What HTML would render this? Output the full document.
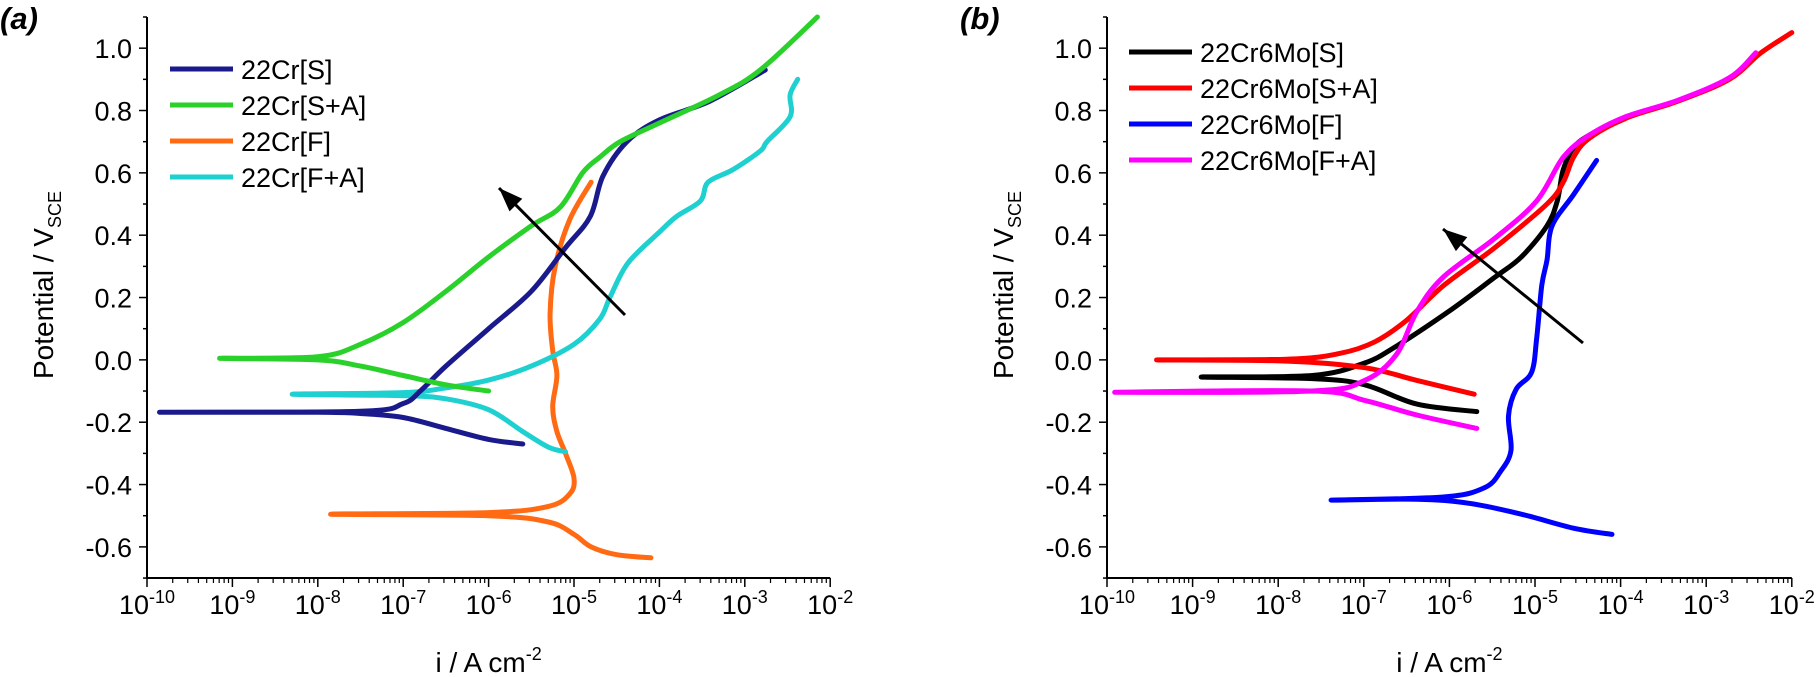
<!DOCTYPE html>
<html><head><meta charset="utf-8"><style>
html,body{margin:0;padding:0;background:#fff}
svg{display:block;font-family:"Liberation Sans",sans-serif}
</style></head><body>
<svg id="s" width="1817" height="677" xmlns="http://www.w3.org/2000/svg">
<text x="0" y="29" font-size="31" font-style="italic" font-weight="bold">(a)</text>
<text x="960" y="29" font-size="31" font-style="italic" font-weight="bold">(b)</text>
</svg>
<script>
(function(){
const S=document.getElementById('s');const NS='http://www.w3.org/2000/svg';
function el(t,a,txt){const e=document.createElementNS(NS,t);for(const k in a)e.setAttribute(k,a[k]);if(txt!==undefined)e.textContent=txt;S.appendChild(e);return e;}
const T=17,B=578;const Y=E=>T+(1.1-E)*311.7;
function smooth(P){let d='M'+P[0][0].toFixed(1)+','+P[0][1].toFixed(1);
  for(let i=0;i<P.length-1;i++){const p0=P[i-1]||P[i],p1=P[i],p2=P[i+1],p3=P[i+2]||p2;
    const c1=[p1[0]+(p2[0]-p0[0])/6,p1[1]+(p2[1]-p0[1])/6],c2=[p2[0]-(p3[0]-p1[0])/6,p2[1]-(p3[1]-p1[1])/6];
    d+='C'+c1.map(v=>v.toFixed(1))+' '+c2.map(v=>v.toFixed(1))+' '+p2.map(v=>v.toFixed(1));}
  return d;}
function panel(x0,dec,ylabX,curves,legend,arrow){
  const X=d=>x0+(d+10)*dec;
  el('line',{x1:x0,y1:T,x2:x0,y2:B+1,stroke:'#000','stroke-width':2});
  el('line',{x1:x0-1,y1:B,x2:X(-2),y2:B,stroke:'#000','stroke-width':2});
  for(let i=-7;i<=11;i++){const E=i/10,y=Y(E),maj=(i%2===0);
    el('line',{x1:x0-(maj?8:4),y1:y,x2:x0,y2:y,stroke:'#000','stroke-width':1.5});
    if(maj&&i!==-7&&i<=10) el('text',{x:x0-15,y:y+10,'font-size':27,'text-anchor':'end'},(E<0?'-':'')+Math.abs(E).toFixed(1));}
  for(let d=-10;d<=-2;d++){el('line',{x1:X(d),y1:B,x2:X(d),y2:B+9,stroke:'#000','stroke-width':1.5});
    const t=el('text',{x:X(d),y:614,'font-size':27,'text-anchor':'middle'});
    const a=document.createElementNS(NS,'tspan');a.textContent='10';t.appendChild(a);
    const b=document.createElementNS(NS,'tspan');b.textContent=String(d);b.setAttribute('font-size','18');b.setAttribute('dy','-11');t.appendChild(b);
    if(d<-2)for(let m=2;m<10;m++){const xx=X(d+Math.log10(m));el('line',{x1:xx,y1:B,x2:xx,y2:B+5,stroke:'#000','stroke-width':1.2});}}
  const xc=(x0+X(-2))/2;
  const t=el('text',{x:xc,y:672,'font-size':28,'text-anchor':'middle'},'i / A cm');
  const sp=document.createElementNS(NS,'tspan');sp.textContent='-2';sp.setAttribute('font-size','18');sp.setAttribute('dy','-12');t.appendChild(sp);
  const yt=el('text',{x:0,y:0,'font-size':28,'text-anchor':'middle',transform:`translate(${ylabX},285) rotate(-90)`},'Potential / V');
  const s2=document.createElementNS(NS,'tspan');s2.textContent='SCE';s2.setAttribute('font-size','18');s2.setAttribute('dy','8');yt.appendChild(s2);
  for(const c of curves){el('path',{d:smooth(c.p.map(q=>[X(q[0]),Y(q[1])])),fill:'none',stroke:c.c,'stroke-width':5,'stroke-linejoin':'round','stroke-linecap':'round'});}
  legend.rows.forEach((r,i)=>{const y=legend.y+i*36;el('line',{x1:legend.x,y1:y,x2:legend.x+63,y2:y,stroke:r[1],'stroke-width':5});
    el('text',{x:legend.x+71,y:y+10,'font-size':27},r[0]);});
  const [ax,ay,bx,by]=arrow;el('line',{x1:ax,y1:ay,x2:bx,y2:by,stroke:'#000','stroke-width':3});
  const ang=Math.atan2(by-ay,bx-ax),L=24,W=9;
  const px=bx-L*Math.cos(ang),py=by-L*Math.sin(ang);
  el('polygon',{points:`${bx},${by} ${px+W*Math.sin(ang)},${py-W*Math.cos(ang)} ${px-W*Math.sin(ang)},${py+W*Math.cos(ang)}`,fill:'#000'});
}
panel(147,85.4,53,[
 {c:'#ff6a13',p:[[-4.1,-0.635],[-4.5,-0.625],[-4.8,-0.6],[-5,-0.56],[-5.3,-0.52],[-6,-0.5],[-7.85,-0.495],[-6,-0.49],[-5.3,-0.47],[-5.05,-0.43],[-5.0,-0.38],[-5.1,-0.3],[-5.2,-0.23],[-5.25,-0.15],[-5.2,-0.05],[-5.25,0.03],[-5.28,0.15],[-5.22,0.3],[-5.05,0.45],[-4.8,0.57]]},
 {c:'#1fd0d0',p:[[-5.1,-0.295],[-5.3,-0.28],[-5.6,-0.23],[-6,-0.16],[-6.5,-0.125],[-7,-0.115],[-8.3,-0.11],[-7,-0.105],[-6.5,-0.09],[-6,-0.065],[-5.5,-0.02],[-5,0.05],[-4.7,0.13],[-4.58,0.2],[-4.37,0.31],[-4.0,0.41],[-3.8,0.46],[-3.52,0.51],[-3.43,0.57],[-3.14,0.61],[-2.82,0.67],[-2.74,0.70],[-2.47,0.78],[-2.47,0.85],[-2.38,0.9]]},
 {c:'#1a1a8c',p:[[-5.6,-0.27],[-6,-0.255],[-6.5,-0.22],[-7,-0.185],[-7.5,-0.172],[-8,-0.168],[-9.85,-0.168],[-7.5,-0.165],[-7,-0.14],[-6.8,-0.1],[-6.5,-0.02],[-6,0.1],[-5.5,0.22],[-5.1,0.36],[-4.81,0.46],[-4.66,0.59],[-4.38,0.70],[-4,0.77],[-3.41,0.83],[-2.76,0.93]]},
 {c:'#2ad12a',p:[[-6,-0.1],[-6.5,-0.08],[-7,-0.05],[-7.5,-0.02],[-8,0.0],[-9.15,0.005],[-8,0.01],[-7.5,0.05],[-7,0.12],[-6.5,0.22],[-6,0.33],[-5.5,0.43],[-5.16,0.49],[-4.9,0.6],[-4.7,0.65],[-4.46,0.7],[-4,0.76],[-3.3,0.85],[-2.82,0.93],[-2.15,1.1]]}
],{x:170,y:69,rows:[['22Cr[S]','#1a1a8c'],['22Cr[S+A]','#2ad12a'],['22Cr[F]','#ff6a13'],['22Cr[F+A]','#1fd0d0']]},[625,315,499,188]);
const upper=[[-3.94,0.775],[-3.33,0.83],[-2.73,0.90],[-2.36,0.985],[-2.0,1.05]];
panel(1107,85.6,1013,[
 {c:'#0000ff',p:[[-4.1,-0.56],[-4.55,-0.54],[-5.16,-0.495],[-5.77,-0.46],[-6.38,-0.447],[-7.38,-0.45],[-6.07,-0.44],[-5.59,-0.41],[-5.4,-0.357],[-5.28,-0.29],[-5.31,-0.18],[-5.22,-0.094],[-5.04,-0.04],[-4.98,0.07],[-4.92,0.24],[-4.86,0.32],[-4.8,0.43],[-4.55,0.53],[-4.28,0.64]]},
 {c:'#000000',p:[[-5.68,-0.166],[-6.38,-0.142],[-6.99,-0.08],[-7.6,-0.06],[-8.9,-0.055],[-7.6,-0.05],[-6.99,-0.01],[-6.62,0.044],[-6.01,0.155],[-5.47,0.265],[-5.16,0.33],[-4.86,0.43],[-4.74,0.51],[-4.67,0.61],[-4.55,0.68],[-4.37,0.72]].concat(upper.slice(0,1))},
 {c:'#ff0000',p:[[-5.71,-0.11],[-6.38,-0.066],[-6.99,-0.025],[-7.9,-0.004],[-9.42,0],[-7.9,0.002],[-7.29,0.02],[-6.87,0.058],[-6.5,0.127],[-6.07,0.238],[-5.47,0.36],[-4.86,0.5],[-4.67,0.57],[-4.55,0.65],[-4.37,0.71]].concat(upper)},
 {c:'#ff00ff',p:[[-5.68,-0.22],[-6.38,-0.177],[-6.99,-0.13],[-7.6,-0.1],[-9.91,-0.104],[-7.6,-0.1],[-6.99,-0.066],[-6.62,0.017],[-6.38,0.155],[-6.07,0.266],[-5.47,0.39],[-4.98,0.51],[-4.67,0.65],[-4.37,0.72],[-3.94,0.78],[-3.33,0.833],[-2.73,0.905],[-2.42,0.985]]}
],{x:1129,y:52,rows:[['22Cr6Mo[S]','#000000'],['22Cr6Mo[S+A]','#ff0000'],['22Cr6Mo[F]','#0000ff'],['22Cr6Mo[F+A]','#ff00ff']]},[1583,343,1443,229]);
})();
</script>
</body></html>
